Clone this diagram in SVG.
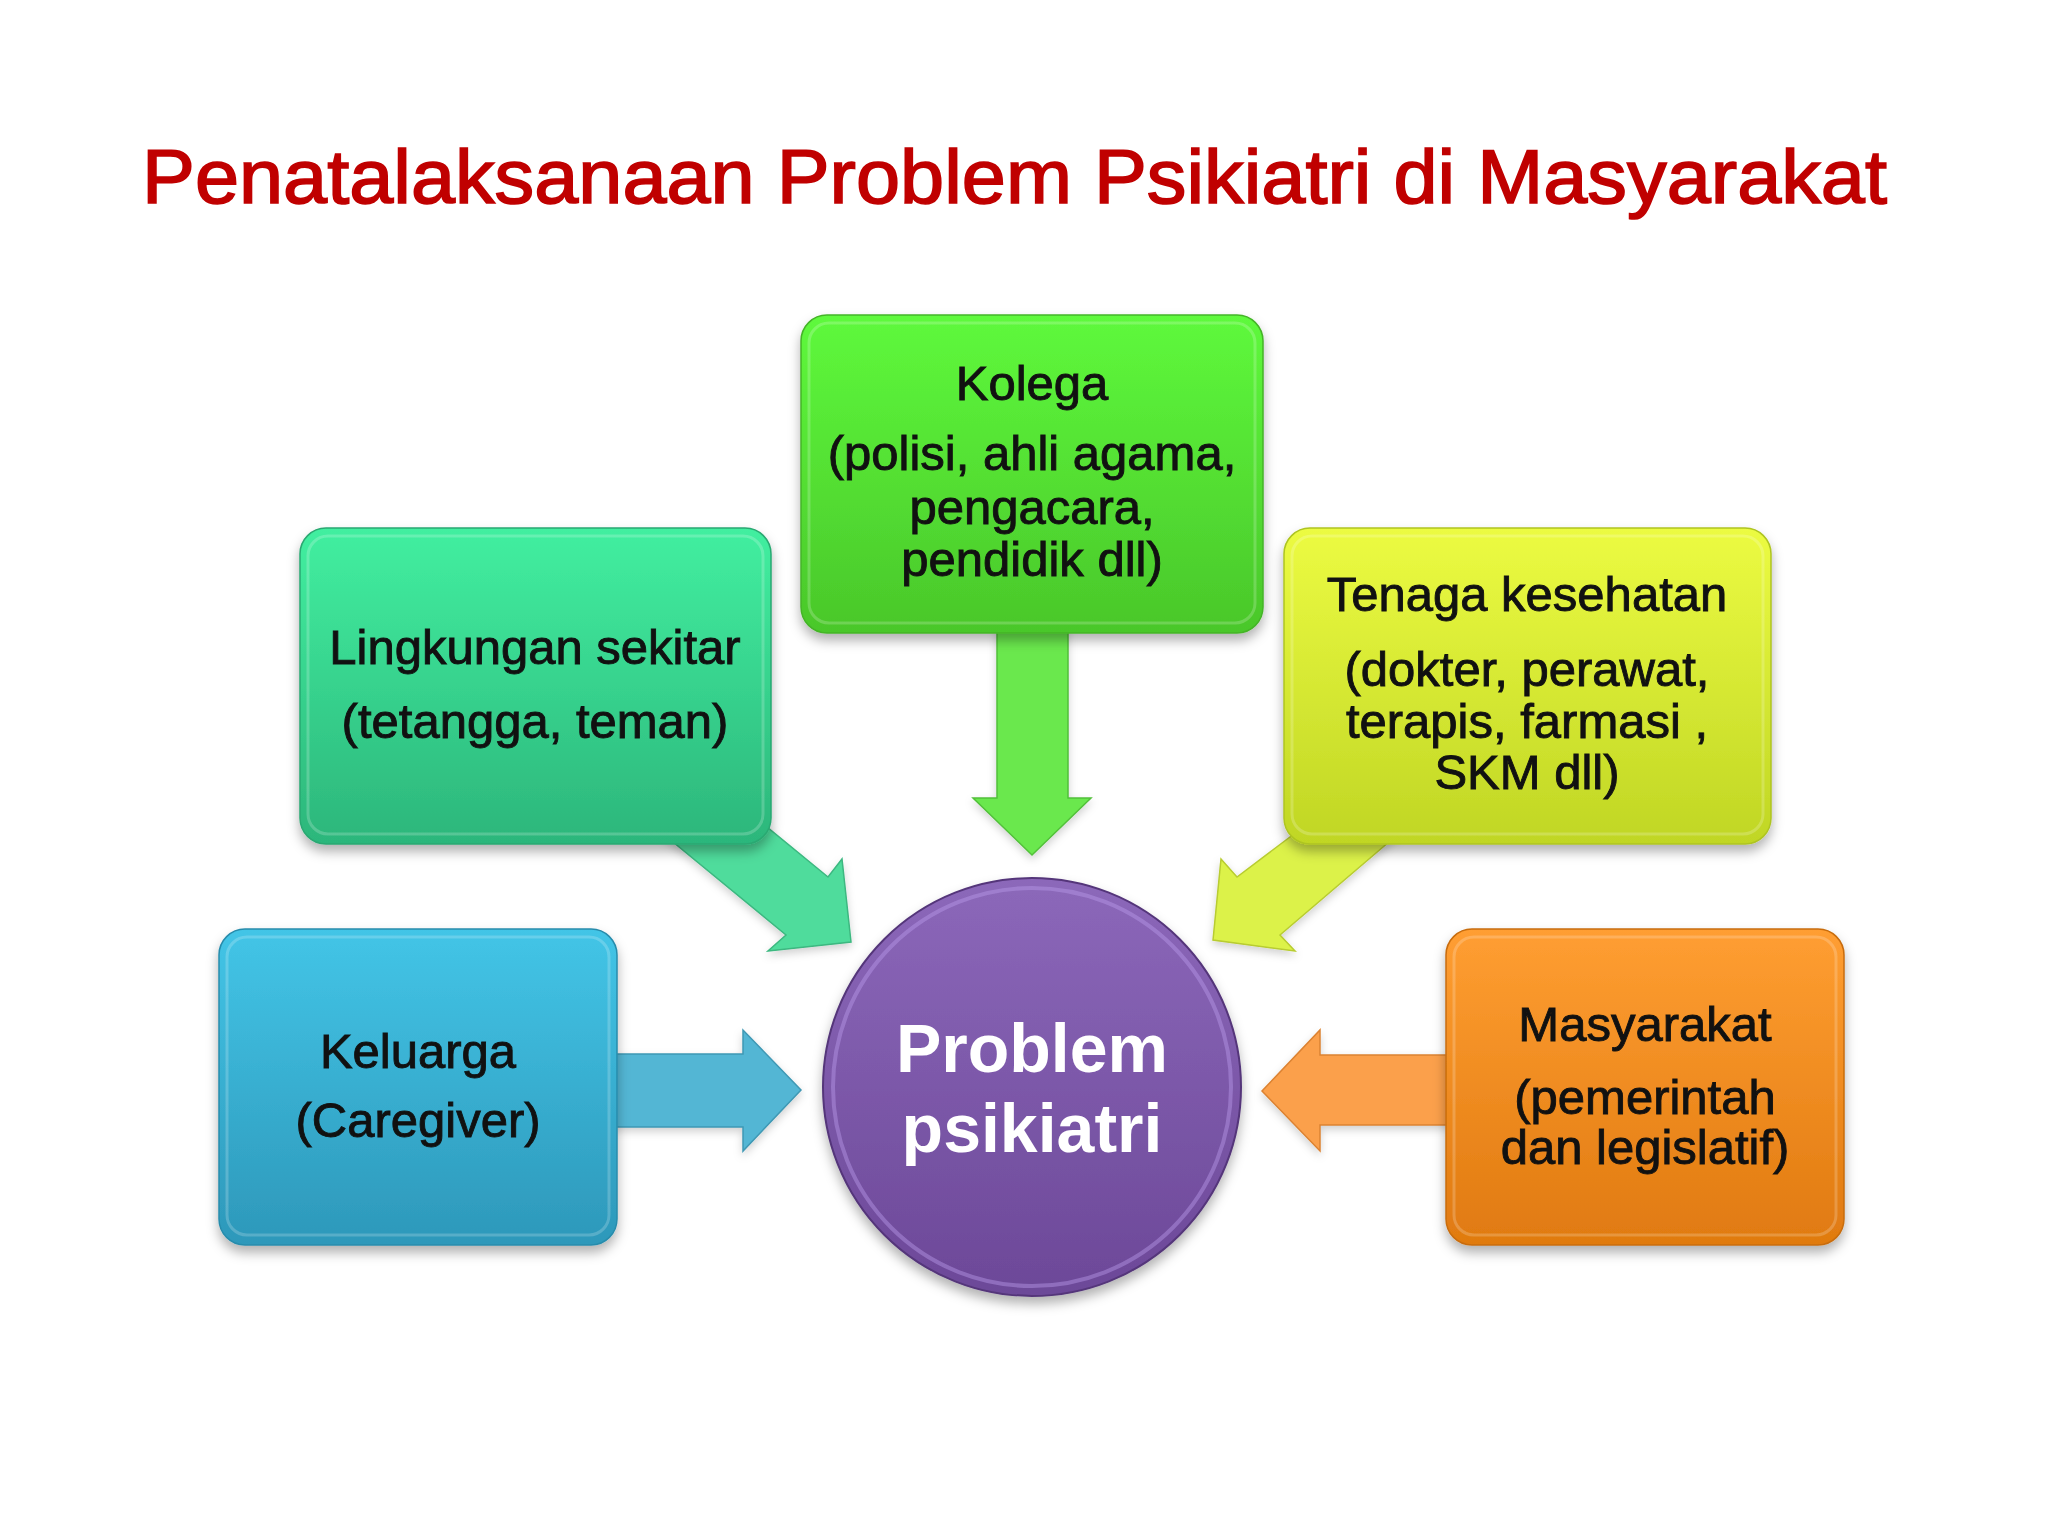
<svg xmlns="http://www.w3.org/2000/svg" width="2048" height="1536" viewBox="0 0 2048 1536">
<defs>
  <linearGradient id="gTeal" x1="0" y1="0" x2="0" y2="1"><stop offset="0" stop-color="#42EFA0"/><stop offset="1" stop-color="#2CB67B"/></linearGradient>
  <linearGradient id="gGreen" x1="0" y1="0" x2="0" y2="1"><stop offset="0" stop-color="#5EF93C"/><stop offset="1" stop-color="#4AC72A"/></linearGradient>
  <linearGradient id="gYellow" x1="0" y1="0" x2="0" y2="1"><stop offset="0" stop-color="#ECFB42"/><stop offset="1" stop-color="#C0D624"/></linearGradient>
  <linearGradient id="gBlue" x1="0" y1="0" x2="0" y2="1"><stop offset="0" stop-color="#43C5E7"/><stop offset="1" stop-color="#2D98BA"/></linearGradient>
  <linearGradient id="gOrange" x1="0" y1="0" x2="0" y2="1"><stop offset="0" stop-color="#FF9E32"/><stop offset="1" stop-color="#E07A10"/></linearGradient>
  <linearGradient id="gPurple" x1="0" y1="0" x2="0" y2="1"><stop offset="0" stop-color="#8C68BA"/><stop offset="1" stop-color="#6C4898"/></linearGradient>
  <filter id="shadow" x="-10%" y="-10%" width="120%" height="125%">
    <feDropShadow dx="0" dy="7" stdDeviation="6" flood-color="#000" flood-opacity="0.3"/>
  </filter>
  <filter id="ashadow" x="-10%" y="-10%" width="120%" height="125%">
    <feDropShadow dx="0" dy="4" stdDeviation="4" flood-color="#000" flood-opacity="0.18"/>
  </filter>
</defs>
<style>
  .title { font-family: "Liberation Sans", Arial, sans-serif; font-size: 76px; fill: #C00000; stroke: #C00000; stroke-width: 1.6px; }
  .lbl { font-family: "Liberation Sans", Arial, sans-serif; font-size: 49px; fill: #111; stroke: #111; stroke-width: 0.9px; text-anchor: middle; }
  .ctr { font-family: "Liberation Sans", Arial, sans-serif; font-size: 68px; font-weight: bold; fill: #FFFFFF; text-anchor: middle; }
  .box { filter: url(#shadow); }
  .bevel { fill: none; stroke: #FFFFFF; stroke-opacity: 0.2; stroke-width: 3; }
  .arrow { filter: url(#ashadow); stroke-width: 1.5; stroke-linejoin: miter; }
</style>
<rect x="0" y="0" width="2048" height="1536" fill="#FFFFFF"/>
<text class="title" x="142" y="203" textLength="1745" lengthAdjust="spacingAndGlyphs">Penatalaksanaan Problem Psikiatri di Masyarakat</text>

<g id="connectors">
  <polygon class="arrow" fill="#6AE84E" stroke="#52C03A" points="997,600 1068,600 1068,798 1091,798 1032,855 973,798 997,798"/>
  <polygon class="arrow" fill="#50DC9C" stroke="#3CB880" points="734,800 828,877 842,859 851,942 768,951 786,935 622,800"/>
  <polygon class="arrow" fill="#DCF24A" stroke="#B8CC30" points="1339,800 1237,877 1221,859 1213,940 1295,951 1280,935 1438,800"/>
  <polygon class="arrow" fill="#52B6D4" stroke="#3F98B4" points="590,1054 743,1054 743,1030 801,1090 743,1151 743,1127 590,1127"/>
  <polygon class="arrow" fill="#FBA04C" stroke="#DC8230" points="1470,1055 1320,1055 1320,1030 1262,1091 1320,1151 1320,1125 1470,1125"/>
</g>

<g id="node-lingkungan">
  <rect class="box" x="300" y="528" width="471" height="316" rx="26" fill="url(#gTeal)" stroke="#2AA872" stroke-width="1.5"/>
  <rect class="bevel" x="308" y="536" width="455" height="298" rx="20"/>
  <text class="lbl" x="535" y="664">Lingkungan sekitar</text>
  <text class="lbl" x="535" y="738">(tetangga, teman)</text>
</g>

<g id="node-kolega">
  <rect class="box" x="801" y="315" width="462" height="318" rx="26" fill="url(#gGreen)" stroke="#44B428" stroke-width="1.5"/>
  <rect class="bevel" x="809" y="323" width="446" height="300" rx="20"/>
  <text class="lbl" x="1032" y="400">Kolega</text>
  <text class="lbl" x="1032" y="470">(polisi, ahli agama,</text>
  <text class="lbl" x="1032" y="524">pengacara,</text>
  <text class="lbl" x="1032" y="576">pendidik dll)</text>
</g>

<g id="node-tenaga">
  <rect class="box" x="1284" y="528" width="487" height="316" rx="26" fill="url(#gYellow)" stroke="#AEC420" stroke-width="1.5"/>
  <rect class="bevel" x="1292" y="536" width="471" height="298" rx="20"/>
  <text class="lbl" x="1527" y="611">Tenaga kesehatan</text>
  <text class="lbl" x="1527" y="686">(dokter, perawat,</text>
  <text class="lbl" x="1527" y="738">terapis, farmasi ,</text>
  <text class="lbl" x="1527" y="789">SKM dll)</text>
</g>

<g id="node-keluarga">
  <rect class="box" x="219" y="929" width="398" height="316" rx="26" fill="url(#gBlue)" stroke="#288CAC" stroke-width="1.5"/>
  <rect class="bevel" x="227" y="937" width="382" height="298" rx="20"/>
  <text class="lbl" x="418" y="1068">Keluarga</text>
  <text class="lbl" x="418" y="1137">(Caregiver)</text>
</g>

<g id="node-masyarakat">
  <rect class="box" x="1446" y="929" width="398" height="316" rx="26" fill="url(#gOrange)" stroke="#C86C0C" stroke-width="1.5"/>
  <rect class="bevel" x="1454" y="937" width="382" height="298" rx="20"/>
  <text class="lbl" x="1645" y="1041">Masyarakat</text>
  <text class="lbl" x="1645" y="1114">(pemerintah</text>
  <text class="lbl" x="1645" y="1164">dan legislatif)</text>
</g>

<g id="node-problem">
  <circle class="box" cx="1032" cy="1087" r="209" fill="url(#gPurple)" stroke="#54367A" stroke-width="2"/>
  <circle cx="1032" cy="1087" r="199" fill="none" stroke="#B89AE8" stroke-opacity="0.45" stroke-width="4"/>
  <text class="ctr" x="1032" y="1072">Problem</text>
  <text class="ctr" x="1032" y="1152">psikiatri</text>
</g>
</svg>
